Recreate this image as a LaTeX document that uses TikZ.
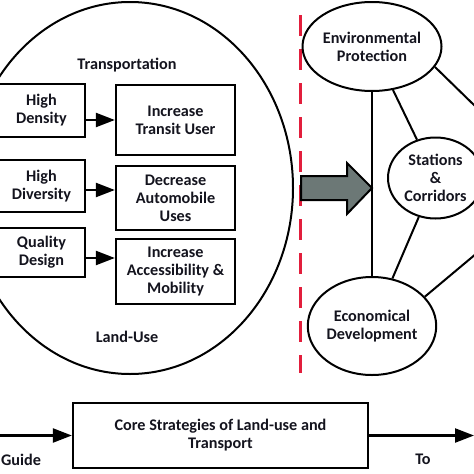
\documentclass[tikz,border=0pt]{standalone}
\usepackage{fontspec}
\setmainfont{Carlito}
\usetikzlibrary{arrows.meta,shapes.geometric}
\definecolor{arrowgrey}{RGB}{108,120,118}
\definecolor{dred}{RGB}{226,30,60}
\definecolor{ink}{RGB}{20,20,30}
\newcommand\dfont{\fontsize{16.2}{18}\selectfont\bfseries}
\begin{document}
\begin{tikzpicture}[x=1pt,y=-1pt,
  lw/.style={line width=2pt},
  box/.style={draw, line width=2.3pt, rectangle, align=center, font=\dfont, text=ink, inner sep=0pt},
  ell/.style={draw, line width=2pt, ellipse, align=center, font=\dfont, text=ink, inner sep=0pt},
  txt/.style={font=\dfont, text=ink, inner sep=0pt},
  arr/.style={line width=2.3pt, -{Triangle[length=19pt,width=14pt]}},
  reddash/.style={draw=dred, line width=3pt, dash pattern=on 21pt off 13pt}]
\useasboundingbox (0,0) rectangle (474,474);
\clip (0,0) rectangle (474,474);
\fill[white] (0,0) rectangle (474,474);

% big ellipse
\node[draw, ellipse, lw, minimum width=326pt, minimum height=372pt, inner sep=0pt] (big) at (130,188) {};
\node[txt] (tr) at (127,65) {Transportation};
\node[txt] (lu) at (127,337) {Land-Use};

% left boxes
\node[box, minimum width=87pt, minimum height=53pt] (hd) at (41.5,110.5) {High\\Density};
\node[box, minimum width=87pt, minimum height=52pt] (hdv) at (41.5,186) {High\\Diversity};
\node[box, minimum width=87pt, minimum height=49pt] (qd) at (41.5,252.5) {Quality\\Design};
\node[box, minimum width=119pt, minimum height=70pt] (itu) at (175.5,120) {Increase\\Transit User};
\node[box, minimum width=119pt, minimum height=64pt] (dau) at (175.5,198) {Decrease\\Automobile\\Uses};
\node[box, minimum width=119pt, minimum height=65pt] (iam) at (175.5,271.5) {Increase\\Accessibility \&\\Mobility};

\draw[arr] (hd.east |- itu.west) -- (itu.west);
\draw[arr] ([yshift=-4pt]hdv.east) -- ([yshift=-4pt]hdv.east -| dau.west);
\draw[arr] ([yshift=-5.5pt]qd.east) -- ([yshift=-5.5pt]qd.east -| iam.west);

% red dashed divider
\coordinate (dtop) at (300,15);
\coordinate (dbot) at (300,373);
\draw[reddash] (dtop) -- (dbot);

% grey block arrow
\filldraw[fill=arrowgrey, draw=black, line width=2pt, line join=miter]
  (301,176) -- (347,176) -- (347,163) -- (372,188) -- (347,214) -- (347,200) -- (301,200) -- cycle;

% right ellipses
\node[ell, minimum width=126pt, minimum height=89pt] (env) at (372,46.5) {Environmental\\Protection};
\node[ell, minimum width=95pt, minimum height=81pt] (st) at (435.5,178) {Stations\\\&\\Corridors};
\node[ell, minimum width=122pt, minimum height=98pt] (eco) at (372,326) {Economical\\Development};
\coordinate (far) at (557,186);

\draw[lw] (env.south) -- (eco.north);
\draw[lw] (env) -- (st);
\draw[lw] (st) -- (eco);
\draw[lw] (env.-18) -- (far);
\draw[lw] (eco.29) -- (far);

% bottom
\node[box, minimum width=295pt, minimum height=65pt] (core) at (220.5,435.5) {Core Strategies of Land-use and\\Transport};
\coordinate (gs) at (-5,435.5);
\coordinate (te) at (474,435.5);
\draw[arr] (gs) -- (core.west);
\draw[arr] (core.east) -- (te);
\node[txt] (guide) at (21,460) {Guide};
\node[txt] (to) at (423,459) {To};
\end{tikzpicture}
\end{document}
